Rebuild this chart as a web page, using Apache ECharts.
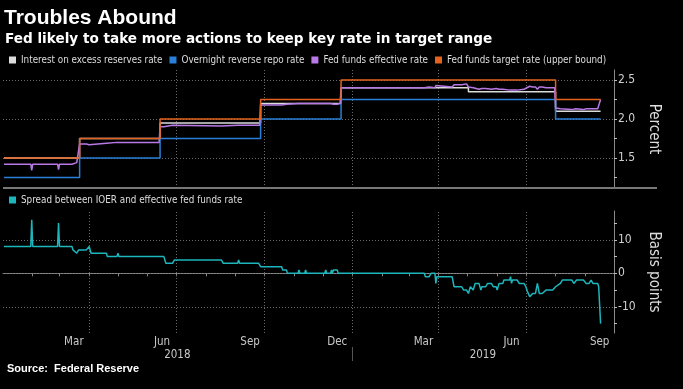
<!DOCTYPE html>
<html><head><meta charset="utf-8">
<script src="https://cdn.jsdelivr.net/npm/echarts@6/dist/echarts.min.js"></script>
<style>html,body{margin:0;padding:0;background:#000;}#c{width:683px;height:389px;}</style>
</head><body><div id="c"></div>
<script>
// ---------- text ----------
const titleText = 'Troubles Abound';
const subtitleText = 'Fed likely to take more actions to keep key rate in target range';
const sourceText = 'Source:  Federal Reserve';
const topSeriesNames = ['Interest on excess reserves rate', 'Overnight reverse repo rate', 'Fed funds effective rate', 'Fed funds target rate (upper bound)'];
const spreadName = 'Spread between IOER and effective fed funds rate';

// ---------- step-rate data (change dates, level from that date) ----------
const ioerDates  = ['2018-01-02','2018-03-22','2018-06-14','2018-09-27','2018-12-20','2019-05-02','2019-08-01','2019-09-17'];
const ioerValues = [1.50, 1.75, 1.95, 2.20, 2.40, 2.35, 2.10, 2.10];
const rrpDates   = ['2018-01-02','2018-03-22','2018-06-14','2018-09-27','2018-12-20','2019-08-01','2019-09-17'];
const rrpValues  = [1.25, 1.50, 1.75, 2.00, 2.25, 2.00, 2.00];
const upperDates = ['2018-01-02','2018-03-22','2018-06-14','2018-09-27','2018-12-20','2019-08-01','2019-09-17'];
const upperValues= [1.50, 1.75, 2.00, 2.25, 2.50, 2.25, 2.25];

// ---------- effective fed funds rate (percent) ----------
const effrPoints = [
 ['2018-01-02',1.42],['2018-01-30',1.42],['2018-01-31',1.34],['2018-02-01',1.42],['2018-02-27',1.42],['2018-02-28',1.35],
 ['2018-03-01',1.42],['2018-03-14',1.42],['2018-03-15',1.43],['2018-03-16',1.43],['2018-03-19',1.44],['2018-03-21',1.44],
 ['2018-03-22',1.68],['2018-03-29',1.68],['2018-04-01',1.67],['2018-04-03',1.69],['2018-04-19',1.69],['2018-04-20',1.70],
 ['2018-04-30',1.70],['2018-05-01',1.69],['2018-05-02',1.70],['2018-06-13',1.70],['2018-06-14',1.90],['2018-06-18',1.90],
 ['2018-06-20',1.92],['2018-06-27',1.92],['2018-06-29',1.91],['2018-08-17',1.91],['2018-08-19',1.92],['2018-09-03',1.92],
 ['2018-09-04',1.91],['2018-09-05',1.92],['2018-09-26',1.92],['2018-09-27',2.18],['2018-10-19',2.18],['2018-10-20',2.19],
 ['2018-10-24',2.19],['2018-10-25',2.20],['2018-11-05',2.20],['2018-11-06',2.19],['2018-11-07',2.20],['2018-11-12',2.20],
 ['2018-11-13',2.19],['2018-11-14',2.20],['2018-12-03',2.20],['2018-12-04',2.19],['2018-12-05',2.20],['2018-12-09',2.20],
 ['2018-12-10',2.19],['2018-12-11',2.20],['2018-12-12',2.19],['2018-12-16',2.19],['2018-12-17',2.20],['2018-12-19',2.20],
 ['2018-12-20',2.40],['2019-03-17',2.40],['2019-03-18',2.41],['2019-03-22',2.41],['2019-03-24',2.40],['2019-03-28',2.40],
 ['2019-03-29',2.43],['2019-03-30',2.41],['2019-04-15',2.41],['2019-04-17',2.44],['2019-04-25',2.44],['2019-04-27',2.45],
 ['2019-04-30',2.45],['2019-05-02',2.41],['2019-05-04',2.39],['2019-05-07',2.40],['2019-05-09',2.38],['2019-05-13',2.38],
 ['2019-05-15',2.40],['2019-05-16',2.39],['2019-05-20',2.39],['2019-05-22',2.38],['2019-05-26',2.38],['2019-05-28',2.39],
 ['2019-05-31',2.39],['2019-06-01',2.40],['2019-06-03',2.38],['2019-06-07',2.38],['2019-06-08',2.37],['2019-06-14',2.37],
 ['2019-06-15',2.36],['2019-06-16',2.38],['2019-06-17',2.37],['2019-06-22',2.37],['2019-06-24',2.38],['2019-06-29',2.38],
 ['2019-07-01',2.39],['2019-07-02',2.40],['2019-07-05',2.42],['2019-07-07',2.42],['2019-07-08',2.41],['2019-07-11',2.41],
 ['2019-07-13',2.38],['2019-07-15',2.41],['2019-07-18',2.41],['2019-07-22',2.40],['2019-07-31',2.40],['2019-08-01',2.14],
 ['2019-08-03',2.14],['2019-08-06',2.13],['2019-08-08',2.12],['2019-08-18',2.12],['2019-08-20',2.13],['2019-08-22',2.13],
 ['2019-08-23',2.12],['2019-08-30',2.12],['2019-09-02',2.13],['2019-09-05',2.13],['2019-09-07',2.12],['2019-09-09',2.13],
 ['2019-09-14',2.13],['2019-09-15',2.14],['2019-09-17',2.25]
];

// ---------- spread IOER - EFFR (basis points) ----------
const spreadPoints = [
 ['2018-01-02',8],['2018-01-30',8],['2018-01-31',16],['2018-02-01',8],['2018-02-27',8],['2018-02-28',15],['2018-03-01',8],
 ['2018-03-14',8],['2018-03-15',7],['2018-03-16',7],['2018-03-19',6],['2018-03-20',6],['2018-03-21',7],['2018-03-29',7],
 ['2018-04-01',8],['2018-04-03',6],['2018-04-19',6],['2018-04-20',5],['2018-04-30',5],['2018-05-01',6],['2018-05-02',5],
 ['2018-06-18',5],['2018-06-20',3],['2018-06-27',3],['2018-06-29',4],['2018-08-17',4],['2018-08-19',3],['2018-09-03',3],
 ['2018-09-04',4],['2018-09-05',3],['2018-09-25',3],['2018-09-27',2],['2018-10-19',2],['2018-10-20',1],['2018-10-24',1],
 ['2018-10-25',0],['2018-11-05',0],['2018-11-06',1],['2018-11-07',0],['2018-11-12',0],['2018-11-13',1],['2018-11-14',0],
 ['2018-12-03',0],['2018-12-04',1],['2018-12-05',0],['2018-12-09',0],['2018-12-10',1],['2018-12-11',0],['2018-12-12',1],
 ['2018-12-16',1],['2018-12-17',0],['2019-03-17',0],['2019-03-18',-1],['2019-03-22',-1],['2019-03-24',0],['2019-03-28',0],
 ['2019-03-29',-3],['2019-03-30',-1],['2019-04-15',-1],['2019-04-17',-4],['2019-04-25',-4],['2019-04-27',-5],['2019-04-30',-5],
 ['2019-05-02',-6],['2019-05-04',-4],['2019-05-07',-5],['2019-05-09',-3],['2019-05-13',-3],['2019-05-15',-5],['2019-05-16',-4],
 ['2019-05-20',-4],['2019-05-22',-3],['2019-05-26',-3],['2019-05-28',-4],['2019-05-31',-4],['2019-06-01',-5],['2019-06-03',-3],
 ['2019-06-07',-3],['2019-06-08',-2],['2019-06-14',-2],['2019-06-15',-1],['2019-06-16',-3],['2019-06-17',-2],['2019-06-22',-2],
 ['2019-06-24',-3],['2019-06-29',-3],['2019-07-01',-4],['2019-07-02',-5],['2019-07-05',-7],['2019-07-07',-7],['2019-07-08',-6],
 ['2019-07-11',-6],['2019-07-13',-3],['2019-07-15',-6],['2019-07-18',-6],['2019-07-22',-5],['2019-07-29',-5],['2019-08-01',-4],
 ['2019-08-03',-4],['2019-08-06',-3],['2019-08-08',-2],['2019-08-18',-2],['2019-08-20',-3],['2019-08-22',-3],['2019-08-23',-2],
 ['2019-08-30',-2],['2019-09-02',-3],['2019-09-05',-3],['2019-09-07',-2],['2019-09-09',-3],['2019-09-14',-3],['2019-09-15',-4],
 ['2019-09-17',-15]
];

// ---------- axes ----------
const xMin = '2018-01-01', xMax = '2019-10-01';
const monthTickDates = ['2018-02-01','2018-03-01','2018-04-01','2018-05-01','2018-06-01','2018-07-01','2018-08-01','2018-09-01',
  '2018-10-01','2018-11-01','2018-12-01','2019-01-01','2019-02-01','2019-03-01','2019-04-01','2019-05-01','2019-06-01',
  '2019-07-01','2019-08-01','2019-09-01'];
const monthLabelDates = ['2018-03-16','2018-06-16','2018-09-16','2018-12-16','2019-03-16','2019-06-16','2019-09-16'];
const monthLabels = ['Mar','Jun','Sep','Dec','Mar','Jun','Sep'];
const yearLabelDates = ['2018-07-02','2019-05-17'];
const yearLabels = ['2018','2019'];
const yearSeparatorDates = ['2019-01-01'];
const topGridDates = ['2018-07-01','2018-10-01','2019-01-01','2019-04-01','2019-07-01'];
const bottomGridDates = ['2018-04-01','2018-07-01','2018-10-01','2019-01-01','2019-04-01','2019-07-01'];
const percentTicks = [1.25, 1.5, 1.75, 2.0, 2.25, 2.5];
const percentLabels = [1.5, 2.0, 2.5];
const bpTicks = [-15, -10, -5, 0, 5, 10, 15];
const bpLabels = [-10, 0, 10];

const colors = ['#dcdcdc', '#2a80d8', '#b879e6', '#e3621f'];
const spreadColor = '#1db6bd';

const ts = s => Date.UTC(+s.slice(0, 4), +s.slice(5, 7) - 1, +s.slice(8, 10));
const zip = (d, v) => d.map((x, i) => [ts(x), v[i]]);
const pts = arr => arr.map(p => [ts(p[0]), p[1]]);
const narrow = '"DejaVu Sans Condensed", "DejaVu Sans", sans-serif';
const boldFont = '"Liberation Sans", sans-serif';
const gridColor = '#6a6a6a';

const chart = echarts.init(document.getElementById('c'), null, {renderer: 'canvas'});

const lbl = (dates, texts) => {
  const m = {}; dates.forEach((d, i) => { m[ts(d)] = texts[i]; });
  return v => (m[v] !== undefined ? m[v] : '');
};

const gridLines = (xs, ys) => ({
  symbol: 'none', silent: true, z: 1, animation: false,
  label: {show: false}, emphasis: {disabled: true},
  lineStyle: {color: gridColor, width: 1, type: [1, 2]},
  data: [...ys.map(v => ({yAxis: v})), ...xs.map(d => ({xAxis: ts(d)}))]
});

const lineBase = {type: 'line', showSymbol: false, symbol: 'none', animation: false, lineStyle: {width: 1.5}, emphasis: {disabled: true}};
const xBase = {type: 'value', min: ts(xMin), max: ts(xMax), splitLine: {show: false}};

const option = {
  backgroundColor: '#000',
  animation: false,
  title: [
    {text: titleText, left: 4, top: 8, padding: 0, textStyle: {color: '#fff', fontSize: 21, fontWeight: 'bold', fontFamily: boldFont}},
    {text: subtitleText, left: 5, top: 32, padding: 0, textStyle: {color: '#fff', fontSize: 13.6, fontWeight: 'bold', fontFamily: '"DejaVu Sans", sans-serif'}},
    {text: sourceText, left: 7, top: 363, padding: 0, textStyle: {color: '#fff', fontSize: 11, fontWeight: 'bold', fontFamily: boldFont}}
  ],
  legend: [
    {data: topSeriesNames, left: 9, top: 55, padding: 0, icon: 'rect', itemWidth: 7, itemHeight: 7, itemGap: 7,
     textStyle: {color: '#ddd', fontSize: 9.8, fontFamily: narrow}, selectedMode: false},
    {data: [spreadName], left: 9, top: 195, padding: 0, icon: 'rect', itemWidth: 7, itemHeight: 7,
     textStyle: {color: '#ddd', fontSize: 9.8, fontFamily: narrow}, selectedMode: false}
  ],
  grid: [
    {left: 3, right: 69, top: 70, height: 118},
    {left: 3, right: 69, top: 211, height: 122}
  ],
  xAxis: [
    Object.assign({}, xBase, {gridIndex: 0, axisLine: {show: false}, axisTick: {show: false}, axisLabel: {show: false}}),
    Object.assign({}, xBase, {gridIndex: 1, position: 'bottom',
     axisLine: {show: true, lineStyle: {color: '#8a8a8a', width: 1}},
     axisTick: {show: true, length: 3, lineStyle: {color: '#8a8a8a'}, customValues: monthTickDates.map(ts)},
     axisLabel: {show: true, color: '#c8c8c8', fontSize: 11.5, fontFamily: narrow, margin: 3, customValues: monthLabelDates.map(ts),
                 formatter: lbl(monthLabelDates, monthLabels), hideOverlap: false}}),
    Object.assign({}, xBase, {gridIndex: 1, position: 'bottom', offset: 14,
     axisLine: {show: false},
     axisTick: {show: true, length: 14, inside: false, lineStyle: {color: '#555'}, customValues: yearSeparatorDates.map(ts)},
     axisLabel: {show: true, color: '#c8c8c8', fontSize: 11.5, fontFamily: narrow, margin: 2, customValues: yearLabelDates.map(ts),
                 formatter: lbl(yearLabelDates, yearLabels), hideOverlap: false}})
  ],
  yAxis: [
    {type: 'value', gridIndex: 0, position: 'right', min: 1.115, max: 2.628,
     axisLine: {show: true, lineStyle: {color: '#8a8a8a'}},
     axisTick: {show: true, length: 3, lineStyle: {color: '#bbb'}, customValues: percentTicks},
     axisLabel: {show: true, color: '#d0d0d0', fontSize: 12, fontFamily: narrow, margin: 4, customValues: percentLabels,
                 formatter: v => Number(v).toFixed(1)},
     splitLine: {show: false},
     name: 'Percent', nameLocation: 'middle', nameRotate: -90, nameGap: 21,
     nameTextStyle: {color: '#ddd', fontSize: 15, fontFamily: narrow}},
    {type: 'value', gridIndex: 1, position: 'right', min: -17.8, max: 18.6,
     axisLine: {show: true, lineStyle: {color: '#8a8a8a'}},
     axisTick: {show: true, length: 3, lineStyle: {color: '#bbb'}, customValues: bpTicks},
     axisLabel: {show: true, color: '#d0d0d0', fontSize: 12, fontFamily: narrow, margin: 4, customValues: bpLabels,
                 formatter: v => String(Math.round(v))},
     splitLine: {show: false},
     name: 'Basis points', nameLocation: 'middle', nameRotate: -90, nameGap: 21,
     nameTextStyle: {color: '#ddd', fontSize: 15, fontFamily: narrow}}
  ],
  series: [
    {type: 'line', xAxisIndex: 0, yAxisIndex: 0, data: [], silent: true, markLine: gridLines(topGridDates, percentLabels)},
    {type: 'line', xAxisIndex: 1, yAxisIndex: 1, data: [], silent: true, markLine: gridLines(bottomGridDates, bpLabels)},
    Object.assign({}, lineBase, {name: topSeriesNames[0], xAxisIndex: 0, yAxisIndex: 0, step: 'end', color: colors[0], data: zip(ioerDates, ioerValues)}),
    Object.assign({}, lineBase, {name: topSeriesNames[1], xAxisIndex: 0, yAxisIndex: 0, step: 'end', color: colors[1], data: zip(rrpDates, rrpValues)}),
    Object.assign({}, lineBase, {name: topSeriesNames[2], xAxisIndex: 0, yAxisIndex: 0, color: colors[2], data: pts(effrPoints)}),
    Object.assign({}, lineBase, {name: topSeriesNames[3], xAxisIndex: 0, yAxisIndex: 0, step: 'end', color: colors[3], data: zip(upperDates, upperValues)}),
    Object.assign({}, lineBase, {name: spreadName, xAxisIndex: 1, yAxisIndex: 1, color: spreadColor, data: pts(spreadPoints)})
  ],
  graphic: [
    {type: 'line', silent: true, z: 10, shape: {x1: 3, y1: 188, x2: 657, y2: 188}, style: {stroke: '#777', lineWidth: 2}}
  ]
};
chart.setOption(option);
</script></body></html>
